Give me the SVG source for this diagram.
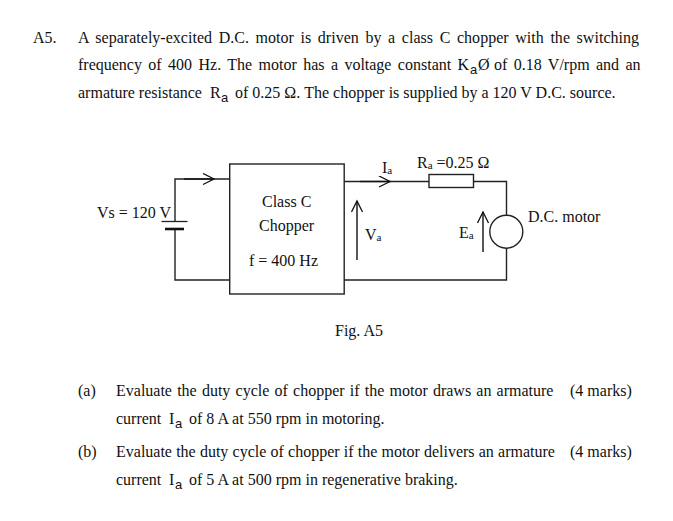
<svg xmlns="http://www.w3.org/2000/svg" width="673" height="521" viewBox="0 0 673 521">
<style>
text{font-family:"Liberation Serif","Times New Roman",serif;font-size:16px;fill:#111}
.s{font-size:11px}
.l{font-family:"Liberation Sans",Arial,sans-serif;font-size:13px}
.w{fill:none;stroke:#222;stroke-width:1.4}
.a{fill:none;stroke:#111;stroke-width:1.4}
</style>
<defs>
<marker id="ah" markerUnits="userSpaceOnUse" markerWidth="14" markerHeight="14" refX="12" refY="6" orient="auto"><path d="M1 0.5L12 6L1 11.5" fill="none" stroke="#111" stroke-width="1.3"/></marker>
</defs>
<rect width="673" height="521" fill="#fff"/>
<g id="question">
<text x="33" y="43">A5.</text>
<text x="78" y="43" textLength="561" lengthAdjust="spacing" style="word-spacing:2.6px">A separately-excited D.C. motor is driven by a class C chopper with the switching</text>
<text x="78" y="70" style="word-spacing:2.4px">frequency of 400 Hz. The motor has a voltage constant K<tspan class="l" x="470" dy="4">a</tspan><tspan x="478" dy="-4">Ø</tspan><tspan x="494">of 0.18 V/rpm and an</tspan></text>
<text x="78" y="98">armature resistance<tspan x="210">R</tspan><tspan class="l" x="221" dy="4">a</tspan><tspan x="235" dy="-4">of 0.25 Ω. The chopper is supplied by a 120 V D.C. source.</tspan></text>
</g>
<g id="connectors">
<path class="w" d="M229.500 179H175V221M175 229V280H229.500"/>
<path class="w" d="M344 181.500H429M473 181.500H506.500V215M506.500 248V280H344"/>
<path class="a" d="M184 179H214" stroke-width="1.800" marker-end="url(#ah)"/>
<path class="a" d="M360 181.500H390" stroke-width="1.800" marker-end="url(#ah)"/>
<path class="a" d="M357 260V201" marker-end="url(#ah)"/>
<path class="a" d="M483 252V212" marker-end="url(#ah)"/>
</g>
<g id="source">
<path d="M161.500 221.500H187.500" stroke="#222" stroke-width="1.300"/>
<path d="M165 229H184" stroke="#111" stroke-width="2.600"/>
<text x="97" y="218">Vs = 120 V</text>
</g>
<g id="chopper">
<rect x="229.700" y="164" width="114.500" height="130" fill="#fff" stroke="#222" stroke-width="1.400"/>
<text x="262" y="207">Class C</text>
<text x="259" y="231">Chopper</text>
<text x="249" y="266">f = 400 Hz</text>
</g>
<g id="resistor">
<rect x="429" y="174.500" width="44.500" height="13" fill="#fff" stroke="#222" stroke-width="1.400"/>
<text x="417" y="168">R<tspan class="s" dy="1">a</tspan><tspan dy="-1"> =0.25 Ω</tspan></text>
</g>
<g id="motor">
<circle cx="506.300" cy="231.700" r="16.500" fill="#fff" stroke="#222" stroke-width="1.400"/>
<text x="528" y="222">D.C. motor</text>
</g>
<g id="labels">
<text x="382" y="173">I<tspan class="s" dy="1">a</tspan></text>
<text x="365" y="240">V<tspan class="s" dy="1">a</tspan></text>
<text x="459" y="238">E<tspan class="s" dy="1">a</tspan></text>
<text x="335" y="336">Fig. A5</text>
</g>
<g id="parts">
<text x="78" y="396">(a)</text>
<text x="116" y="396" style="word-spacing:1.2px">Evaluate the duty cycle of chopper if the motor draws an armature</text>
<text x="570" y="396">(4 marks)</text>
<text x="116" y="424">current<tspan x="169">I</tspan><tspan class="l" x="175" dy="4">a</tspan><tspan x="189" dy="-4">of 8 A at 550 rpm in motoring.</tspan></text>
<text x="78" y="457">(b)</text>
<text x="116" y="457" style="word-spacing:0.2px">Evaluate the duty cycle of chopper if the motor delivers an armature</text>
<text x="570" y="457">(4 marks)</text>
<text x="116" y="485">current<tspan x="169">I</tspan><tspan class="l" x="175" dy="4">a</tspan><tspan x="189" dy="-4">of 5 A at 500 rpm in regenerative braking.</tspan></text>
</g>
</svg>
